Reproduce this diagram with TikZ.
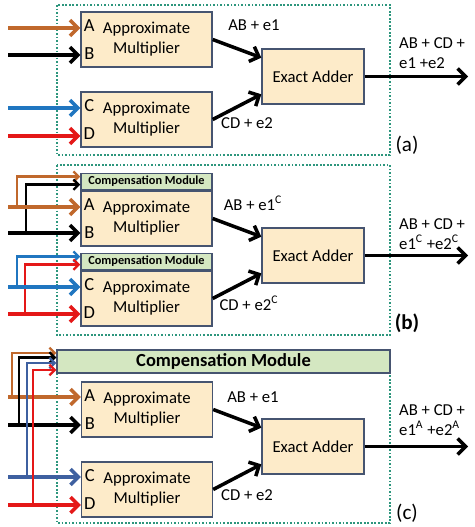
\documentclass[tikz,border=0pt]{standalone}
\usepackage{fontspec}
\setmainfont{Carlito}
\usetikzlibrary{positioning,calc,arrows.meta}
\definecolor{boxfill}{RGB}{253,235,201}
\definecolor{boxline}{RGB}{70,84,112}
\definecolor{compfill}{RGB}{212,231,193}
\definecolor{framegreen}{RGB}{45,150,125}
\definecolor{cOrange}{RGB}{192,104,44}
\definecolor{cBlue}{RGB}{32,118,192}
\definecolor{cBlueDk}{RGB}{62,96,160}
\definecolor{cRed}{RGB}{228,24,24}
\begin{document}
\begin{tikzpicture}[x=0.02cm, y=-0.02cm, font=\fontsize{9.5}{11.4}\selectfont,
    multbox/.style={draw=boxline, fill=boxfill, line width=0.8pt, minimum width=2.62cm, minimum height=1.1cm, align=center, inner sep=0pt},
    addbox/.style={multbox, minimum width=2.04cm},
    compsmall/.style={draw=boxline, fill=compfill, line width=0.8pt, minimum width=2.62cm, minimum height=0.32cm, inner sep=0pt, font=\fontsize{7}{8}\selectfont\bfseries},
    compbig/.style={compsmall, minimum width=6.66cm, minimum height=0.46cm, font=\fontsize{10.5}{12}\selectfont\bfseries},
    frame/.style={draw=framegreen, line width=1pt, densely dotted},
    inarr/.style={line width=2pt, -{Straight Barb[length=4.5pt,width=9pt]}},
    brarr/.style={line width=1.3pt, -{Straight Barb[length=3pt,width=6pt]}},
    pin/.style={font=\fontsize{10.5}{12}\selectfont, inner sep=1pt},
    tag/.style={font=\fontsize{12}{14}\selectfont}]
    \useasboundingbox (0,0) rectangle (474,527);

    % Case (a)
    \draw[frame] (57,5) rectangle (390,155);
    \node[multbox] (mulA1) at (146.5,39.5) {Approximate\\Multiplier};
    \node[multbox] (mulC1) at (146.5,119.5) {Approximate\\Multiplier};
    \node[addbox] (add1) at (313,76.5) {Exact Adder};
    \node[pin] (lA1) at ($(mulA1.west)+(9,-14)$) {A}; \node[pin] (lB1) at ($(mulA1.west)+(9,14)$) {B};
    \node[pin] (lC1) at ($(mulC1.west)+(9,-14)$) {C}; \node[pin] (lD1) at ($(mulC1.west)+(9,14)$) {D};

    % Inputs
    \coordinate (sA1) at (8,28); \coordinate (sB1) at (8,55);
    \coordinate (sC1) at (8,108); \coordinate (sD1) at (8,136);
    \draw[inarr, cOrange] (sA1) -- (sA1 -| mulA1.west);
    \draw[inarr, black] (sB1) -- (sB1 -| mulA1.west);
    \draw[inarr, cBlue] (sC1) -- (sC1 -| mulC1.west);
    \draw[inarr, cRed] (sD1) -- (sD1 -| mulC1.west);

    % Sums
    \coordinate (out1) at (468,76.5);
    \draw[inarr] (mulA1.east) -- (add1.160);
    \draw[inarr] (mulC1.east) -- (add1.199);
    \draw[inarr] (add1.east) -- (out1);
    \node (sumA1) at (254,25) {AB + e1};
    \node (sumC1) at (247,123) {CD + e2};
    \node[anchor=west, align=left] (tot1) at (393,53) {AB + CD +\\e1 +e2};
    \node[tag] (tag1) at (407,145) {(a)};

    % Case (b)
    \draw[frame] (57,165) rectangle (390,335);
    \node[multbox] (mulA2) at (146.5,218.5) {Approximate\\Multiplier};
    \node[compsmall, above=0pt of mulA2] (compA2) {Compensation Module};
    \node[multbox] (mulC2) at (146.5,298.5) {Approximate\\Multiplier};
    \node[compsmall, above=0pt of mulC2] (compC2) {Compensation Module};
    \node[addbox] (add2) at (313,255.5) {Exact Adder};
    \node[pin] (lA2) at ($(mulA2.west)+(9,-14)$) {A}; \node[pin] (lB2) at ($(mulA2.west)+(9,14)$) {B};
    \node[pin] (lC2) at ($(mulC2.west)+(9,-14)$) {C}; \node[pin] (lD2) at ($(mulC2.west)+(9,14)$) {D};

    % Inputs and branches to the modules
    \coordinate (sA2) at (8,207); \coordinate (sB2) at (8,233);
    \coordinate (sC2) at (8,287); \coordinate (sD2) at (8,314);
    \coordinate (bA2) at (17,207); \coordinate (bB2) at (26,233);
    \coordinate (bC2) at (17,287); \coordinate (bD2) at (25,314);
    \draw[brarr, cOrange] (bA2) |- ($(compA2.west)+(0,-5)$);
    \draw[brarr, black] (bB2) |- ($(compA2.west)+(0,3)$);
    \draw[brarr, cBlue] (bC2) |- ($(compC2.west)+(0,-5)$);
    \draw[brarr, cRed] (bD2) |- ($(compC2.west)+(0,3)$);
    \draw[inarr, cOrange] (sA2) -- (sA2 -| mulA2.west);
    \draw[inarr, black] (sB2) -- (sB2 -| mulA2.west);
    \draw[inarr, cBlue] (sC2) -- (sC2 -| mulC2.west);
    \draw[inarr, cRed] (sD2) -- (sD2 -| mulC2.west);

    % Sums
    \coordinate (out2) at (468,255.5);
    \draw[inarr] (mulA2.east) -- (add2.160);
    \draw[inarr] (mulC2.east) -- (add2.199);
    \draw[inarr] (add2.east) -- (out2);
    \node (sumA2) at (253,203) {AB + e1\textsuperscript{C}};
    \node (sumC2) at (249,303) {CD + e2\textsuperscript{C}};
    \node[anchor=west, align=left] (tot2) at (393,234) {AB + CD +\\e1\textsuperscript{C} +e2\textsuperscript{C}};
    \node[tag, font=\fontsize{12}{14}\selectfont\bfseries] (tag2) at (407,323) {(b)};

    % Case (c)
    \draw[frame] (57,373) rectangle (390,523);
    \node[compbig] (comp3) at (223.5,361.5) {Compensation Module};
    \node[multbox] (mulA3) at (147,409.5) {Approximate\\Multiplier};
    \node[multbox] (mulC3) at (147,489.5) {Approximate\\Multiplier};
    \node[addbox] (add3) at (313,446.5) {Exact Adder};
    \node[pin] (lA3) at ($(mulA3.west)+(9,-14)$) {A}; \node[pin] (lB3) at ($(mulA3.west)+(9,14)$) {B};
    \node[pin] (lC3) at ($(mulC3.west)+(9,-14)$) {C}; \node[pin] (lD3) at ($(mulC3.west)+(9,14)$) {D};

    % Inputs and branches to the shared module
    \coordinate (sA3) at (8,397); \coordinate (sB3) at (8,425);
    \coordinate (sC3) at (8,477); \coordinate (sD3) at (8,505);
    \coordinate (bA3) at (12,397); \coordinate (bB3) at (19,425);
    \coordinate (bC3) at (27,477); \coordinate (bD3) at (33,505);
    \draw[inarr, cOrange] (sA3) -- (sA3 -| mulA3.west);
    \draw[inarr, black] (sB3) -- (sB3 -| mulA3.west);
    \draw[inarr, cBlueDk] (sC3) -- (sC3 -| mulC3.west);
    \draw[inarr, cRed] (sD3) -- (sD3 -| mulC3.west);
    \draw[brarr, cOrange] (bA3) |- ($(comp3.west)+(0,-8.5)$);
    \draw[brarr, black] (bB3) |- ($(comp3.west)+(0,-4)$);
    \draw[brarr, cBlueDk] (bC3) |- ($(comp3.west)+(0,1.5)$);
    \draw[brarr, cRed] (bD3) |- ($(comp3.west)+(0,8.5)$);

    % Sums
    \coordinate (out3) at (468,446.5);
    \draw[inarr] (mulA3.east) -- (add3.160);
    \draw[inarr] (mulC3.east) -- (add3.199);
    \draw[inarr] (add3.east) -- (out3);
    \node (sumA3) at (253,397) {AB + e1};
    \node (sumC3) at (247,495) {CD + e2};
    \node[anchor=west, align=left] (tot3) at (393,420) {AB + CD +\\e1\textsuperscript{A} +e2\textsuperscript{A}};
    \node[tag] (tag3) at (407,513) {(c)};
\end{tikzpicture}
\end{document}
